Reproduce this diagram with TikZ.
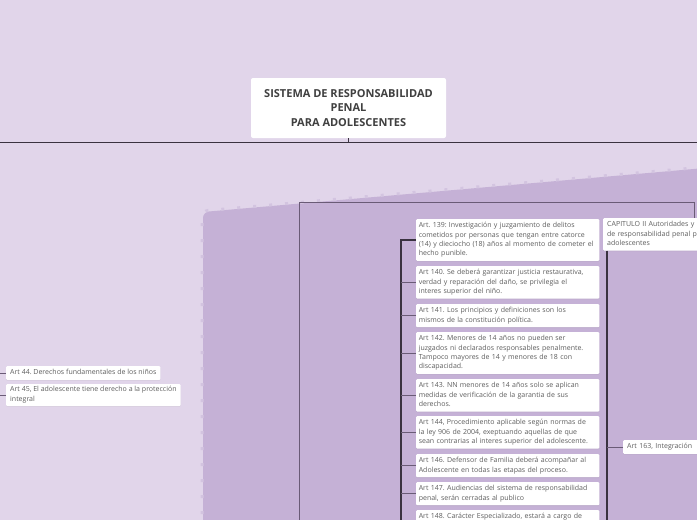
\documentclass[tikz,border=0pt]{standalone}
\usepackage{fontspec}
\setmainfont{Open Sans}
\usetikzlibrary{shadows}

\definecolor{mapbg}{HTML}{E1D5EA}
\definecolor{zonefill}{HTML}{C5B1D6}
\definecolor{zonedash}{HTML}{D3C4E0}
\definecolor{branch}{HTML}{3A3240}
\definecolor{twig}{HTML}{6A5B76}
\definecolor{inktext}{HTML}{5E5E5E}

\tikzset{
  topic/.style={fill=white, rounded corners=2pt, text=black!75,
    font=\fontsize{11}{14.5}\selectfont\bfseries, align=center,
    minimum width=195pt, minimum height=60pt},
  artbox/.style={fill=white, rounded corners=1pt, text=inktext,
    font=\fontsize{7}{9.3}\selectfont\frenchspacing, align=left, anchor=north west,
    inner xsep=4pt, inner ysep=2.2pt,
    execute at begin node=\strut, execute at end node=\strut,
    drop shadow={shadow xshift=0pt, shadow yshift=-0.8pt, opacity=0.12}},
  wide/.style={text width=178pt, inner xsep=2.6pt},
  trunk/.style={draw=branch, line width=0.8pt},
  twigline/.style={draw=twig, line width=0.7pt},
}

\begin{document}
\begin{tikzpicture}[x=1pt,y=-1pt]
          \useasboundingbox (0,0) rectangle (697,520);
          \fill[mapbg] (0,0) rectangle (697,520);

          % shaded zone
          \fill[zonefill] (203,530) [rounded corners=6pt] -- (203,212) -- (705,168) [sharp corners] -- (705,530) -- cycle;
          \draw[zonedash, line width=3pt, dash pattern=on 3pt off 13pt] (202,530) [rounded corners=6pt] -- (202,211) -- (705,167);

          \node[topic] (title) at (348.5,108) {SISTEMA DE RESPONSABILIDAD\\PENAL\\PARA ADOLESCENTES};

          \node[artbox, wide] (art139) at (416,219) {Art. 139: Investigación y juzgamiento de delitos\\cometidos por personas que tengan entre catorce\\(14) y dieciocho (18) años al momento de cometer el\\hecho punible.};
          \node[artbox, wide] (art140) at (416,266) {Art 140. Se deberá garantizar justicia restaurativa,\\verdad y reparación del daño, se privilegia el\\interes superior del niño.};
          \node[artbox, wide] (art141) at (416,304) {Art 141. Los principios y definiciones son los\\mismos de la constitución política.};
          \node[artbox, wide] (art142) at (416,332) {Art 142. Menores de 14 años no pueden ser\\juzgados ni declarados responsables penalmente.\\Tampoco mayores de 14 y menores de 18 con\\discapacidad.};
          \node[artbox, wide] (art143) at (416,379) {Art 143. NN menores de 14 años solo se aplican\\medidas de verificación de la garantia de sus\\derechos.};
          \node[artbox, wide] (art144) at (416,416) {Art 144, Procedimiento aplicable según normas de\\la ley 906 de 2004, exeptuando aquellas de que\\sean contrarias al interes superior del adolescente.};
          \node[artbox, wide] (art146) at (416,454) {Art 146. Defensor de Familia deberá acompañar al\\Adolescente en todas las etapas del proceso.};
          \node[artbox, wide] (art147) at (416,482) {Art 147. Audiencias del sistema de responsabilidad\\penal, serán cerradas al publico};
          \node[artbox, wide] (art148) at (416,510) {Art 148. Carácter Especializado, estará a cargo de};

          \node[artbox, text width=120pt] (cap) at (603,218) {CAPITULO II Autoridades y\\de responsabilidad penal p\\adolescentes};
          \node[artbox, text width=90pt] (art163) at (623,440) {Art 163, Integración};

          \node[artbox] (art44) at (6,366) {Art 44. Derechos fundamentales de los niños};
          \node[artbox] (art45) at (6,384) {Art 45, El adolescente tiene derecho a la protección\\integral};

          \coordinate (mainL) at (0,142);
          \coordinate (mainR) at (697,142);
          \coordinate (rimbot) at (299,530);
          \coordinate (rimtop) at (694,202);
          \coordinate (spinebot) at (401,530);
          \coordinate (capbot) at (607,530);
          \coordinate (leftrail) at (0,380);

          \draw[trunk] (mainL) -- (mainR);
          \draw[trunk] (title.south) -- (title.south |- mainL);
          \draw[twigline] (rimbot) |- (rimtop) -- (rimtop |- cap.north);

          \draw[trunk, line width=1.3pt] (art139.west) -| (spinebot);
          \draw[twigline] (art140.west) -- (art140.west -| spinebot);
          \draw[twigline] (art141.west) -- (art141.west -| spinebot);
          \draw[twigline] (art142.west) -- (art142.west -| spinebot);
          \draw[twigline] (art143.west) -- (art143.west -| spinebot);
          \draw[twigline] (art144.west) -- (art144.west -| spinebot);
          \draw[twigline] (art146.west) -- (art146.west -| spinebot);
          \draw[twigline] (art147.west) -- (art147.west -| spinebot);

          \draw[trunk, line width=1.6pt] (cap.south -| capbot) -- (capbot);
          \draw[twigline] (art163.west) -- (art163.west -| capbot);

          \draw[twigline] (art44.west) -- (art44.west -| leftrail);
          \draw[twigline] (art45.west) -- (art45.west -| leftrail);
        \end{tikzpicture}
\end{document}
